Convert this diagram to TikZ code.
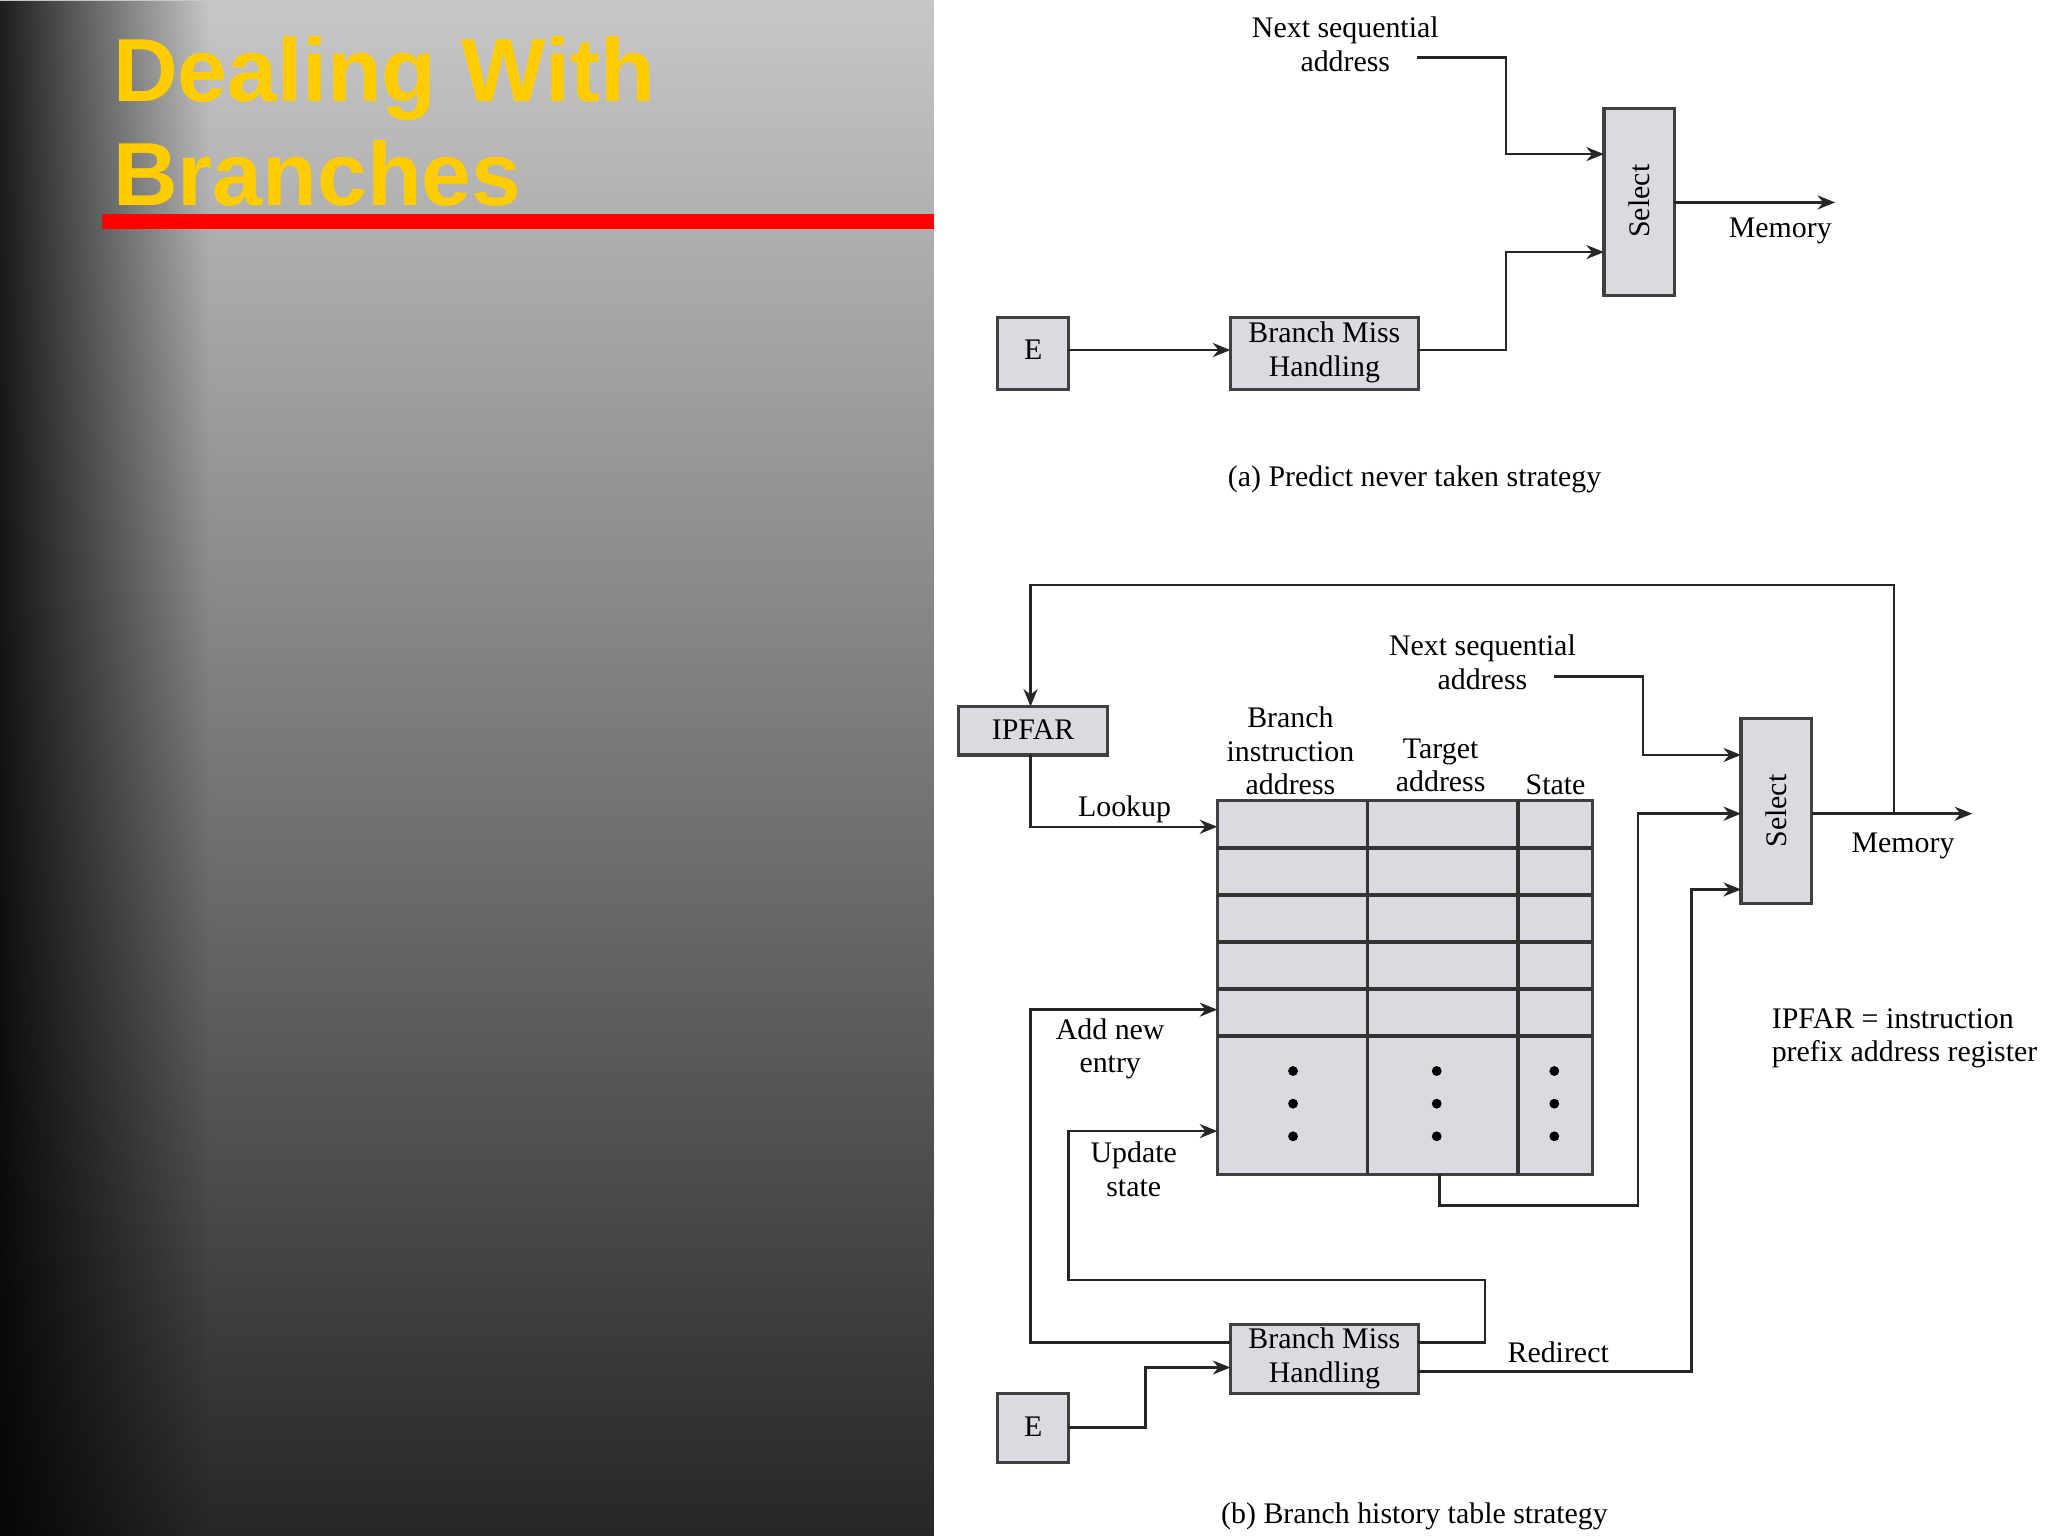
\documentclass[tikz,border=0pt]{standalone}
\usepackage{fontspec}
\setmainfont{Liberation Serif}
\newfontfamily\titlefont{Liberation Sans}
\usetikzlibrary{arrows.meta,fadings}
\definecolor{boxfill}{HTML}{DADAE0}
\definecolor{titley}{HTML}{FFCC00}
\begin{document}
\begin{tikzpicture}[x=0.01306cm,y=-0.01306cm,
  bx/.style={draw=black!75,line width=0.9pt,fill=boxfill},
  ln/.style={draw=black!85,line width=0.7pt},
  ar/.style={ln,-{Stealth[length=5pt,width=4pt]}},
  lbl/.style={font=\fontsize{8.5}{9.6}\selectfont,align=center,inner sep=0pt}]
\useasboundingbox (0,0) rectangle (1568,1176);
\fill[white] (0,0) rectangle (1568,1176);
% left panel
\shade[top color=black!22,bottom color=black!85] (0,0) rectangle (715,1176);
\fill[black,path fading=east,fill opacity=0.85] (0,0) rectangle (160,1176);
\node[anchor=west,text=titley,font=\titlefont\bfseries\fontsize{25.5}{28}\selectfont,inner sep=0pt] (t1) at (86,60) {Dealing With};
\node[anchor=west,text=titley,font=\titlefont\bfseries\fontsize{25.5}{28}\selectfont,inner sep=0pt] (t2) at (86,133) {Branches};
\fill[red] (78,164) rectangle (715,175);
% (a)
\draw[bx] (1228,83) rectangle (1282,226);
\node[lbl,rotate=90] (sela) at (1255,154) {Select};
\node[lbl] (nsa) at (1030,34) {Next sequential\\address};
\draw[ar] (1085,44) -- (1153,44) -- (1153,118) -- (1228,118);
\draw[ar] (1282,155) -- (1405,155);
\node[lbl] (mema) at (1363,177) {Memory};
\draw[bx] (764,243) rectangle (818,298);
\node[lbl] (ea) at (791,268) {E};
\draw[bx] (942,243) rectangle (1086,298);
\node[lbl] (bmha) at (1014,270) {Branch Miss\\Handling};
\draw[ar] (818,268) -- (942,268);
\draw[ar] (1086,268) -- (1153,268) -- (1153,193) -- (1228,193);
\node[lbl] (capa) at (1083,367) {(a) Predict never taken strategy};
% (b)
\draw[ar] (1450,623) -- (1450,448) -- (789,448) -- (789,541);
\draw[bx] (734,541) rectangle (848,578);
\node[lbl] (ipfar) at (791,559) {IPFAR};
\draw[ar] (789,578) -- (789,633) -- (932,633);
\node[lbl] (look) at (861,620) {Lookup};
\draw[bx] (932,613) rectangle (1219,899);
\foreach \y in {649,685,721,757,793} \draw[line width=1.1pt,black!80] (932,\y) -- (1219,\y);
\foreach \x in {1047,1162} \draw[line width=1.1pt,black!80] (\x,613) -- (\x,899);
\foreach \x in {990,1100,1190} \foreach \y in {820,845,870} \fill (\x,\y) circle (1.4pt);
\node[lbl] (h1) at (988,575) {Branch\\instruction\\address};
\node[lbl] (h2) at (1103,586) {Target\\address};
\node[lbl] (h3) at (1191,601) {State};
\node[lbl] (nsb) at (1135,507) {Next sequential\\address};
\draw[ar] (1190,518) -- (1258,518) -- (1258,578) -- (1333,578);
\draw[bx] (1333,550) rectangle (1387,692);
\node[lbl,rotate=90] (selb) at (1360,621) {Select};
\draw[ar] (1387,623) -- (1510,623);
\node[lbl] (memb) at (1457,648) {Memory};
\draw[ar] (1102,899) -- (1102,923) -- (1254,923) -- (1254,623) -- (1333,623);
\draw[bx] (942,1014) rectangle (1086,1067);
\node[lbl] (bmhb) at (1014,1040) {Branch Miss\\Handling};
\draw[ar] (1086,1050) -- (1295,1050) -- (1295,681) -- (1333,681);
\node[lbl] (redir) at (1193,1035) {Redirect};
\draw[bx] (764,1067) rectangle (818,1120);
\node[lbl] (eb) at (791,1092) {E};
\draw[ar] (818,1093) -- (877,1093) -- (877,1047) -- (942,1047);
\draw[ar] (942,1028) -- (789,1028) -- (789,773) -- (932,773);
\node[lbl] (add) at (850,803) {Add new\\entry};
\draw[ar] (1086,1028) -- (1137,1028) -- (1137,980) -- (818,980) -- (818,866) -- (932,866);
\node[lbl] (upd) at (868,895) {Update\\state};
\node[lbl,align=left,anchor=west] (note) at (1356,795) {IPFAR = instruction\\prefix address register};
\node[lbl] (capb) at (1083,1161) {(b) Branch history table strategy};
\end{tikzpicture}
\end{document}
